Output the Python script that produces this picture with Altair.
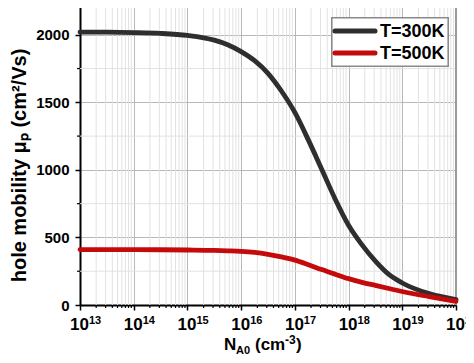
import altair as alt
import pandas as pd

# ---- data ----
N = [1e13, 3.16e13, 1e14, 3.16e14, 1e15, 3.16e15, 5.62e15, 1e16, 1.78e16, 3.16e16,
     5.62e16, 1e17, 1.78e17, 3.16e17, 5.62e17, 1e18, 1.78e18, 3.16e18, 5.62e18,
     1e19, 3.16e19, 1e20]
mu_300 = [2020, 2019, 2016, 2010, 1995, 1960, 1926, 1875, 1808, 1715,
          1584, 1425, 1222, 1005, 785, 590, 445, 325, 226,
          163, 84, 40]
mu_500 = [410, 410, 410, 409, 407, 404, 401, 397, 389, 375,
          356, 332, 298, 262, 228, 195, 168, 145, 122,
          100, 62, 27]
series_names = ["T=300K", "T=500K"]
series_colors = ["#2e2e2e", "#c40a0a"]

x_major = [1e13, 1e14, 1e15, 1e16, 1e17, 1e18, 1e19, 1e20]
x_exponents = ["13", "14", "15", "16", "17", "18", "19", "20"]
x_minor = [m * d for d in [1e13, 1e14, 1e15, 1e16, 1e17, 1e18, 1e19] for m in range(2, 10)]
y_major = [0, 500, 1000, 1500, 2000]
y_minor = [250, 750, 1250, 1750]

W, H = 376, 304
FONT = "Liberation Sans"

curves = pd.DataFrame({
    "N": N * 2,
    "mu": mu_300 + mu_500,
    "series": [series_names[0]] * len(N) + [series_names[1]] * len(N),
})
xs = alt.Scale(type="log", domain=[1e13, 1e20], nice=False)
ys = alt.Scale(domain=[0, 2250], nice=False, zero=False)

# minor grid and minor ticks
xminor_df = pd.DataFrame({"N": x_minor})
yminor_df = pd.DataFrame({"mu": y_minor})
grid_x_minor = alt.Chart(xminor_df).mark_rule(color="#e2e2e2", strokeWidth=1).encode(
    x=alt.X("N:Q", scale=xs), y=alt.value(0), y2=alt.value(H))
grid_y_minor = alt.Chart(yminor_df).mark_rule(color="#e2e2e2", strokeWidth=1).encode(
    y=alt.Y("mu:Q", scale=ys), x=alt.value(0), x2=alt.value(W))
tick_x_minor = alt.Chart(xminor_df).mark_rule(color="black", strokeWidth=1.2).encode(
    x=alt.X("N:Q", scale=xs), y=alt.value(H), y2=alt.value(H + 3))
tick_y_minor = alt.Chart(yminor_df).mark_rule(color="black", strokeWidth=1.2).encode(
    y=alt.Y("mu:Q", scale=ys), x=alt.value(-3), x2=alt.value(0))

base_axes = alt.Chart(curves).mark_line(opacity=0).encode(
    x=alt.X("N:Q", scale=xs, axis=alt.Axis(
        values=x_major, labels=False, title=None, grid=True, gridColor="#b8b8b8",
        gridWidth=1, tickSize=5, tickWidth=1.5, tickColor="black",
        domainColor="black", domainWidth=2)),
    y=alt.Y("mu:Q", scale=ys, axis=alt.Axis(
        values=y_major, format="d", grid=True, gridColor="#b8b8b8", gridWidth=1,
        tickSize=5, tickWidth=1.5, tickColor="black", domainColor="black",
        domainWidth=2, labelFont=FONT, labelFontSize=15, labelFontWeight="bold",
        labelColor="black", labelPadding=6,
        title="hole mobility μₚ (cm²/Vs)", titleFont=FONT, titleFontSize=20,
        titleFontWeight="bold", titleColor="black", titleAngle=270,
        titleX=-55, titleY=164, titleAlign="center", titleBaseline="alphabetic")),
)

frame_right = alt.Chart(curves).mark_rule(color="#9a9a9a", strokeWidth=2).encode(
    x=alt.value(W), y=alt.value(0), y2=alt.value(H))

lines = alt.Chart(curves).mark_line(strokeWidth=4.8, interpolate="monotone",
                                    strokeCap="round").encode(
    x=alt.X("N:Q", scale=xs),
    y=alt.Y("mu:Q", scale=ys),
    color=alt.Color("series:N", scale=alt.Scale(domain=series_names, range=series_colors),
                    legend=None),
)

# legend (box, line samples, labels)
leg_box = alt.Chart(curves).mark_rect(fill="white", stroke="#8a8a8a", strokeWidth=1.2).encode(
    x=alt.value(252), x2=alt.value(368), y=alt.value(17), y2=alt.value(65))
leg_layers = [leg_box]
for i, name in enumerate(series_names):
    ldf = pd.DataFrame({"series": [name]})
    leg_layers.append(alt.Chart(ldf).mark_rule(strokeWidth=5, strokeCap="round",
                                               color=series_colors[i]).encode(
        x=alt.value(255), x2=alt.value(295), y=alt.value(30 + 22 * i)))
    leg_layers.append(alt.Chart(ldf).mark_text(font=FONT, fontSize=18, fontWeight="bold",
                                               align="left", baseline="middle",
                                               color="black").encode(
        x=alt.value(300), y=alt.value(31 + 22 * i), text="series:N"))

# x tick labels: 10 with superscript exponent
lab_df = pd.DataFrame({"N": x_major, "exp": x_exponents, "ten": ["10"] * len(x_major)})
lab_ten = alt.Chart(lab_df).mark_text(font=FONT, fontSize=17, fontWeight="bold",
                                      align="right", baseline="alphabetic", dx=9,
                                      color="black").encode(
    x=alt.X("N:Q", scale=xs), y=alt.value(H + 25), text="ten:N")
lab_exp = alt.Chart(lab_df).mark_text(font=FONT, fontSize=11, fontWeight="bold",
                                      align="left", baseline="alphabetic", dx=9,
                                      color="black").encode(
    x=alt.X("N:Q", scale=xs), y=alt.value(H + 19), text="exp:N")

# x axis title: N_A0 (cm^-3)
title_df = pd.DataFrame({
    "t": ["N", "A0", "(cm", "-3", ")"],
    "px": [144, 156, 175, 205, 216],
    "py": [349, 353, 349, 343, 349],
    "fs": [17, 11, 17, 12, 17],
})
xtitle = alt.Chart(title_df).mark_text(font=FONT, fontWeight="bold", align="left",
                                       baseline="alphabetic", color="black").encode(
    x=alt.X("px:Q", scale=None), y=alt.Y("py:Q", scale=None),
    size=alt.Size("fs:Q", scale=None, legend=None), text="t:N")

chart = alt.layer(
    grid_x_minor, grid_y_minor, base_axes, tick_x_minor, tick_y_minor,
    frame_right, lines, *leg_layers, lab_ten, lab_exp, xtitle
).properties(
    width=W, height=H,
    autosize=alt.AutoSizeParams(type="none"),
    padding={"left": 72, "top": -7, "right": 10, "bottom": 50},
).configure_view(stroke=None)

chart.save("out.html", embed_options={"renderer": "svg", "actions": False})
